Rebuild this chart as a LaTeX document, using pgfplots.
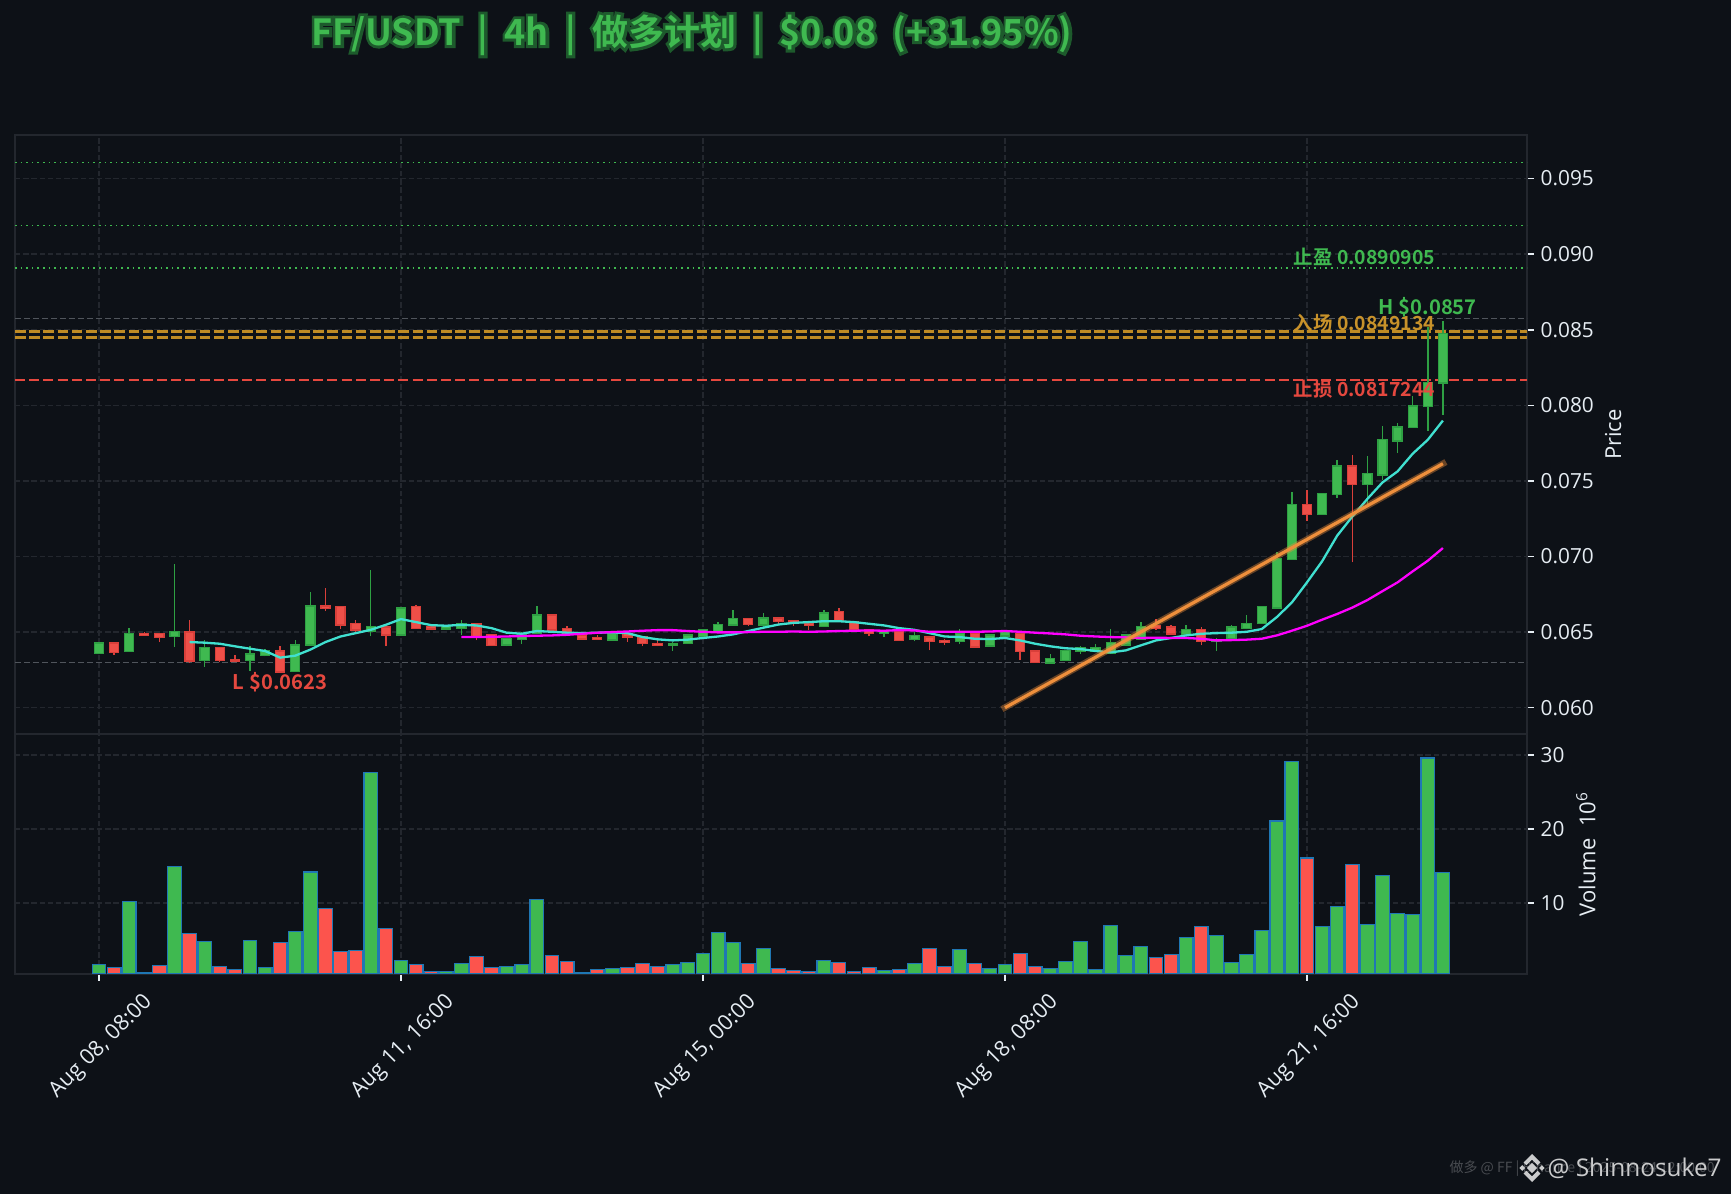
\documentclass[border=0pt]{standalone}
\usepackage{fontspec}
\usepackage{pgfplots}
\usepackage{pgfplotstable}
\pgfplotsset{compat=1.18}
\setmainfont{Open Sans}
\newfontfamily\cjkb{Noto Sans CJK SC Bold}
\newfontfamily\cjkout{Noto Sans CJK SC Bold}[FakeBold=16]
\newfontfamily\cjkr{Noto Sans CJK SC}
\definecolor{bg}{HTML}{0D1117}
\definecolor{spine}{HTML}{23272E}
\definecolor{gridc}{HTML}{23272E}
\definecolor{txt}{HTML}{E6EDF3}
\definecolor{gf}{HTML}{3FB950}
\definecolor{ge}{HTML}{2EA043}
\definecolor{rf}{HTML}{EE4F48}
\definecolor{re}{HTML}{D93F3A}
\definecolor{rv}{HTML}{FC544D}
\definecolor{vedge}{HTML}{1F77B4}
\definecolor{org}{HTML}{BF8B24}
\definecolor{orgt}{HTML}{C8922A}
\definecolor{lvlr}{HTML}{E5483F}
\definecolor{hl}{HTML}{50555C}
\definecolor{cy}{HTML}{40E0D0}
\definecolor{mg}{RGB}{255,0,255}
\definecolor{tr}{HTML}{EE8F3C}
\definecolor{ttl}{HTML}{3FB950}
\definecolor{ttlo}{HTML}{1D5A2C}
\newcommand\candle[7]{%
  \pgfmathsetmacro\xa{#3-0.3}\pgfmathsetmacro\xb{#3+0.3}%
  \addplot[forget plot,solid,line width=0.72pt,color=#2] coordinates {(#3,#4) (#3,#7)};
  \addplot[forget plot,solid,line width=0.65pt,draw=#2,fill=#1] coordinates {(\xa,#5) (\xb,#5) (\xb,#6) (\xa,#6) (\xa,#5)} --cycle;
}
\newcommand\G[5]{\candle{gf}{ge}{#1}{#2}{#3}{#4}{#5}}
\newcommand\R[5]{\candle{rf}{re}{#1}{#2}{#3}{#4}{#5}}
\pgfplotstableread{
i v
0 1.71
2 10.2
5 14.9
7 4.77
10 4.9
11 1.26
13 6.13
14 14.2
18 27.6
20 2.2
23 0.72
24 1.8
27 1.4
28 1.67
29 10.45
34 1.13
38 1.67
39 1.94
40 3.15
41 6.0
42 4.64
44 3.83
48 2.2
52 0.86
54 1.8
57 3.69
59 1.13
60 1.67
63 1.13
64 2.07
65 4.77
66 1.0
67 6.94
68 2.88
69 4.1
72 5.32
74 5.59
75 1.94
76 3.02
77 6.26
78 21.1
79 29.1
81 6.8
82 9.5
84 7.07
85 13.7
86 8.56
87 8.42
88 29.6
89 14.1
}\volup
\pgfplotstableread{
i v
1 1.26
3 0.59
4 1.53
6 5.86
8 1.4
9 1.0
12 4.64
15 9.23
16 3.42
17 3.56
19 6.53
21 1.67
22 0.72
25 2.75
26 1.26
30 2.88
31 2.07
32 0.59
33 1.0
35 1.26
36 1.8
37 1.4
43 1.8
45 1.13
46 0.86
47 0.72
49 1.94
50 0.72
51 1.26
53 1.0
55 3.83
56 1.4
58 1.8
61 3.15
62 1.4
70 2.61
71 3.02
73 6.8
80 16.1
83 15.2
}\voldown
\pgfplotstableread{
i p
6 0.06434
7 0.06430
8 0.06423
9 0.06406
10 0.06390
11 0.06375
12 0.06331
13 0.06344
14 0.06384
15 0.06434
16 0.06471
17 0.06493
18 0.06515
19 0.06548
20 0.06586
21 0.06566
22 0.06546
23 0.06542
24 0.06548
25 0.06544
26 0.06526
27 0.06496
28 0.06489
29 0.06507
30 0.06502
31 0.06496
32 0.06493
33 0.06496
34 0.06498
35 0.06493
36 0.06467
37 0.06452
38 0.06445
39 0.06450
40 0.06461
41 0.06471
42 0.06485
43 0.06507
44 0.06529
45 0.06550
46 0.06561
47 0.06566
48 0.06572
49 0.06572
50 0.06566
51 0.06555
52 0.06544
53 0.06526
54 0.06515
55 0.06493
56 0.06471
57 0.06467
58 0.06456
59 0.06454
60 0.06461
61 0.06445
62 0.06423
63 0.06406
64 0.06393
65 0.06388
66 0.06375
67 0.06366
68 0.06379
69 0.06412
70 0.06445
71 0.06461
72 0.06478
73 0.06489
74 0.06493
75 0.06496
76 0.06502
77 0.06520
78 0.06599
79 0.06696
80 0.06829
81 0.06968
82 0.07138
83 0.07264
84 0.07381
85 0.07490
86 0.07563
87 0.07680
88 0.07772
89 0.07899
}\emacy
\pgfplotstableread{
i p
24 0.06467
25 0.06467
26 0.06469
27 0.06471
28 0.06474
29 0.06476
30 0.06478
31 0.06482
32 0.06489
33 0.06496
34 0.06500
35 0.06504
36 0.06509
37 0.06513
38 0.06513
39 0.06507
40 0.06502
41 0.06498
42 0.06498
43 0.06500
44 0.06502
45 0.06502
46 0.06504
47 0.06502
48 0.06504
49 0.06507
50 0.06509
51 0.06511
52 0.06509
53 0.06513
54 0.06511
55 0.06502
56 0.06502
57 0.06502
58 0.06502
59 0.06504
60 0.06507
61 0.06502
62 0.06496
63 0.06491
64 0.06485
65 0.06476
66 0.06471
67 0.06467
68 0.06465
69 0.06461
70 0.06463
71 0.06461
72 0.06461
73 0.06456
74 0.06445
75 0.06447
76 0.06450
77 0.06456
78 0.06478
79 0.06509
80 0.06542
81 0.06582
82 0.06620
83 0.06662
84 0.06712
85 0.06771
86 0.06829
87 0.06902
88 0.06972
89 0.07056
}\emama
\pgfplotsset{
  common/.style={
    scale only axis, width=756pt, xmin=-5.56, xmax=94.57,
    xtick={0,20,40,60,80},
    axis line style={color=spine,line width=0.8pt},
    grid=both, minor tick num=0,
    grid style={color=gridc,line width=0.65pt,dash pattern=on 2.7pt off 1.4pt},
    ytick pos=right, yticklabel pos=right, xtick pos=bottom,
    tick align=outside,
    major tick length=3.3pt,
    tick style={color=txt,line width=0.8pt},
    tick label style={color=txt,font=\fontsize{10.4}{12}\selectfont},
    yticklabel style={/pgf/number format/assume math mode=true},
    clip=true,
  }
}
\begin{document}
\begin{tikzpicture}[x=1pt,y=1pt]
\path[use as bounding box,fill=bg] (0,0) rectangle (865.5,597);
% ---------- volume panel
\begin{axis}[common,name=vol,at={(7.5pt,110pt)},anchor=south west,height=120pt,
  ymin=0.405,ymax=32.84,ytick={10,20,30},
  xticklabels={{Aug 08, 08:00},{Aug 11, 16:00},{Aug 15, 00:00},{Aug 18, 08:00},{Aug 21, 16:00}},
  xticklabel style={rotate=45,anchor=center,xshift=-22.6pt,yshift=-24.1pt,font=\fontsize{10.8}{12}\selectfont},
  ylabel={Volume\ \ 10\textsuperscript{6}},
  ylabel style={at={(axis description cs:1.039,0.5)},anchor=center,color=txt,font=\fontsize{11}{13}\selectfont},
  ybar,bar width=6.8pt,bar shift=0pt]
\addplot[forget plot,fill=gf,draw=vedge,line width=0.65pt] table[x=i,y=v] {\volup};
\addplot[forget plot,fill=rv,draw=vedge,line width=0.65pt] table[x=i,y=v] {\voldown};
\end{axis}
% ---------- price panel
\begin{axis}[common,name=price,at={(7.5pt,230pt)},anchor=south west,height=299.5pt,
  ymin=0.05826,ymax=0.09788,
  ytick={0.06,0.065,0.07,0.075,0.08,0.085,0.09,0.095},
  yticklabel style={/pgf/number format/fixed,/pgf/number format/fixed zerofill,/pgf/number format/precision=3,/pgf/number format/assume math mode=true},
  scaled y ticks=false,
  xticklabels={},
  x tick style={draw=none},
  ylabel={Price},
  ylabel style={at={(axis description cs:1.0569,0.5)},anchor=center,color=txt,font=\fontsize{11}{13}\selectfont}]
% levels
\addplot[forget plot,color=gf,line width=0.8pt,dash pattern=on 0.8pt off 2pt] coordinates {(-5.56,0.09606) (94.57,0.09606)};
\addplot[forget plot,color=gf,line width=0.8pt,dash pattern=on 0.8pt off 2pt] coordinates {(-5.56,0.09189) (94.57,0.09189)};
\addplot[forget plot,color=gf,line width=0.8pt,dash pattern=on 0.8pt off 2pt] coordinates {(-5.56,0.08909) (94.57,0.08909)};
\addplot[forget plot,color=hl,line width=0.7pt,dash pattern=on 3.2pt off 1.3pt] coordinates {(-5.56,0.08574) (94.57,0.08574)};
\addplot[forget plot,color=hl,line width=0.7pt,dash pattern=on 3.2pt off 1.3pt] coordinates {(-5.56,0.06297) (94.57,0.06297)};
\addplot[forget plot,color=org,line width=1.4pt,dash pattern=on 5.3pt off 1.8pt] coordinates {(-5.56,0.08488) (94.57,0.08488)};
\addplot[forget plot,color=org,line width=1.4pt,dash pattern=on 5.3pt off 1.8pt] coordinates {(-5.56,0.08446) (94.57,0.08446)};
\addplot[forget plot,color=lvlr,line width=1.3pt,dash pattern=on 5pt off 2.1pt] coordinates {(-5.56,0.08168) (94.57,0.08168)};
% candles: index, low, body bottom, body top, high
\G{0}{.06353}{.06357}{.06428}{.06436}
\R{1}{.06349}{.06364}{.06428}{.06428}
\G{2}{.06371}{.06371}{.06489}{.06529}
\R{3}{.06476}{.06476}{.06489}{.06502}
\R{4}{.06434}{.06463}{.06489}{.06489}
\G{5}{.06401}{.06469}{.06502}{.06952}
\R{6}{.06296}{.06309}{.06500}{.06577}
\G{7}{.06270}{.06311}{.06397}{.06450}
\R{8}{.06300}{.06311}{.06397}{.06397}
\R{9}{.06309}{.06309}{.06318}{.06346}
\G{10}{.06243}{.06311}{.06355}{.06410}
\G{11}{.06340}{.06346}{.06375}{.06390}
\R{12}{.06230}{.06237}{.06375}{.06406}
\G{13}{.06239}{.06239}{.06414}{.06450}
\G{14}{.06414}{.06414}{.06673}{.06768}
\R{15}{.06638}{.06658}{.06673}{.06794}
\R{16}{.06520}{.06546}{.06667}{.06667}
\R{17}{.06500}{.06513}{.06559}{.06577}
\G{18}{.06471}{.06507}{.06539}{.06912}
\R{19}{.06406}{.06480}{.06533}{.06533}
\G{20}{.06480}{.06480}{.06660}{.06660}
\R{21}{.06526}{.06526}{.06667}{.06682}
\R{22}{.06520}{.06520}{.06537}{.06540}
\G{23}{.06511}{.06520}{.06542}{.06550}
\G{24}{.06482}{.06526}{.06553}{.06583}
\R{25}{.06445}{.06469}{.06553}{.06561}
\R{26}{.06408}{.06412}{.06482}{.06482}
\G{27}{.06406}{.06414}{.06456}{.06456}
\G{28}{.06421}{.06450}{.06485}{.06500}
\G{29}{.06485}{.06489}{.06614}{.06675}
\R{30}{.06500}{.06513}{.06614}{.06614}
\R{31}{.06491}{.06491}{.06522}{.06537}
\R{32}{.06454}{.06454}{.06480}{.06480}
\R{33}{.06450}{.06450}{.06463}{.06478}
\G{34}{.06447}{.06447}{.06489}{.06489}
\R{35}{.06434}{.06467}{.06491}{.06491}
\R{36}{.06406}{.06423}{.06467}{.06467}
\R{37}{.06406}{.06412}{.06423}{.06445}
\G{38}{.06375}{.06414}{.06425}{.06432}
\G{39}{.06423}{.06423}{.06480}{.06480}
\G{40}{.06471}{.06471}{.06515}{.06515}
\G{41}{.06504}{.06504}{.06548}{.06570}
\G{42}{.06546}{.06546}{.06588}{.06647}
\R{43}{.06539}{.06548}{.06588}{.06588}
\G{44}{.06533}{.06546}{.06594}{.06629}
\R{45}{.06555}{.06568}{.06594}{.06594}
\R{46}{.06539}{.06564}{.06575}{.06583}
\R{47}{.06511}{.06542}{.06555}{.06555}
\G{48}{.06533}{.06539}{.06627}{.06643}
\R{49}{.06577}{.06577}{.06634}{.06662}
\R{50}{.06513}{.06513}{.06572}{.06572}
\R{51}{.06471}{.06489}{.06513}{.06513}
\G{52}{.06465}{.06489}{.06502}{.06507}
\R{53}{.06445}{.06445}{.06507}{.06507}
\G{54}{.06439}{.06450}{.06476}{.06498}
\R{55}{.06379}{.06436}{.06467}{.06467}
\R{56}{.06412}{.06430}{.06443}{.06452}
\G{57}{.06421}{.06436}{.06489}{.06522}
\R{58}{.06401}{.06401}{.06489}{.06489}
\G{59}{.06408}{.06408}{.06480}{.06480}
\G{60}{.06474}{.06474}{.06511}{.06511}
\R{61}{.06314}{.06371}{.06489}{.06507}
\R{62}{.06298}{.06298}{.06375}{.06375}
\G{63}{.06296}{.06296}{.06325}{.06353}
\G{64}{.06309}{.06314}{.06377}{.06377}
\G{65}{.06355}{.06371}{.06397}{.06410}
\G{66}{.06375}{.06375}{.06397}{.06419}
\G{67}{.06362}{.06362}{.06430}{.06522}
\G{68}{.06414}{.06414}{.06480}{.06480}
\G{69}{.06452}{.06452}{.06539}{.06570}
\R{70}{.06515}{.06522}{.06544}{.06588}
\R{71}{.06487}{.06487}{.06533}{.06550}
\G{72}{.06485}{.06485}{.06515}{.06544}
\R{73}{.06412}{.06436}{.06515}{.06531}
\G{74}{.06375}{.06441}{.06450}{.06463}
\G{75}{.06454}{.06454}{.06533}{.06548}
\G{76}{.06518}{.06524}{.06559}{.06610}
\G{77}{.06555}{.06555}{.06671}{.06671}
\G{78}{.06660}{.06660}{.06989}{.07033}
\G{79}{.06982}{.06982}{.07344}{.07425}
\R{80}{.07235}{.07278}{.07344}{.07439}
\G{81}{.07278}{.07278}{.07417}{.07417}
\G{82}{.07386}{.07410}{.07599}{.07636}
\R{83}{.06961}{.07474}{.07599}{.07669}
\G{84}{.07329}{.07474}{.07548}{.07662}
\G{85}{.07504}{.07539}{.07772}{.07866}
\G{86}{.07684}{.07763}{.07857}{.07884}
\G{87}{.07851}{.07851}{.07996}{.08061}
\G{88}{.07833}{.07990}{.08152}{.08520}
\G{89}{.07939}{.08147}{.08476}{.08557}
% moving averages
\addplot[forget plot,color=cy,line width=1.15pt] table[x=i,y=p] {\emacy};
\addplot[forget plot,color=mg,line width=1.15pt] table[x=i,y=p] {\emama};
% trend
\addplot[forget plot,color=tr,opacity=0.4,line width=3.2pt] coordinates {(59.8,0.0599) (89.2,0.07625)};
\addplot[forget plot,color=tr,line width=1.6pt] coordinates {(60,0.06) (89,0.07614)};
% labels
\node[text=gf,font=\cjkb\fontsize{9.7}{11}\selectfont] at (axis cs:83.8,0.08984) {止盈 0.0890905};
\node[text=orgt,font=\cjkb\fontsize{9.7}{11}\selectfont] at (axis cs:83.8,0.08545) {入场 0.0849134};
\node[text=lvlr,font=\cjkb\fontsize{9.7}{11}\selectfont] at (axis cs:83.8,0.08107) {止损 0.0817244};
\node[text=gf,font=\cjkb\fontsize{10.1}{11}\selectfont] at (axis cs:88,0.08647) {H \$0.0857};
\node[text=lvlr,font=\cjkb\fontsize{10.1}{11}\selectfont] at (axis cs:12,0.06167) {L \$0.0623};
\end{axis}
% title
\node[text=ttlo,font=\cjkout\fontsize{18}{21}\selectfont,anchor=center] at (346,579.5) {FF/USDT \ | \ 4h \ | \ 做多计划 \ | \ \$0.08 \ (+31.95\%)};
\node[text=ttl,font=\cjkb\fontsize{18}{21}\selectfont,anchor=center] at (346,579.5) {FF/USDT \ | \ 4h \ | \ 做多计划 \ | \ \$0.08 \ (+31.95\%)};
% watermark
\node[inner sep=0pt,text=white!25!bg,font=\cjkr\fontsize{7}{8}\selectfont,anchor=east] at (857.5,12.5) {做多 @ FF | Binance | 2025-08-24 12:00:00};
\begin{scope}[shift={(766,13)}]
\fill[white!78!bg] (0,2.6) -- (2.6,0) -- (0,-2.6) -- (-2.6,0) -- cycle;
\fill[white!78!bg] (-4.9,1.4) -- (-3.5,0) -- (-4.9,-1.4) -- (-6.3,0) -- cycle;
\fill[white!78!bg] (4.9,1.4) -- (6.3,0) -- (4.9,-1.4) -- (3.5,0) -- cycle;
\fill[white!78!bg] (0,7) -- (4.2,2.8) -- (2.8,1.4) -- (0,4.2) -- (-2.8,1.4) -- (-4.2,2.8) -- cycle;
\fill[white!78!bg] (0,-7) -- (4.2,-2.8) -- (2.8,-1.4) -- (0,-4.2) -- (-2.8,-1.4) -- (-4.2,-2.8) -- cycle;
\end{scope}
\node[inner sep=0pt,text=white!78!bg,font=\fontsize{12.2}{14}\selectfont,anchor=east] at (861,13) {@ Shinnosuke7};
\end{tikzpicture}
\end{document}
